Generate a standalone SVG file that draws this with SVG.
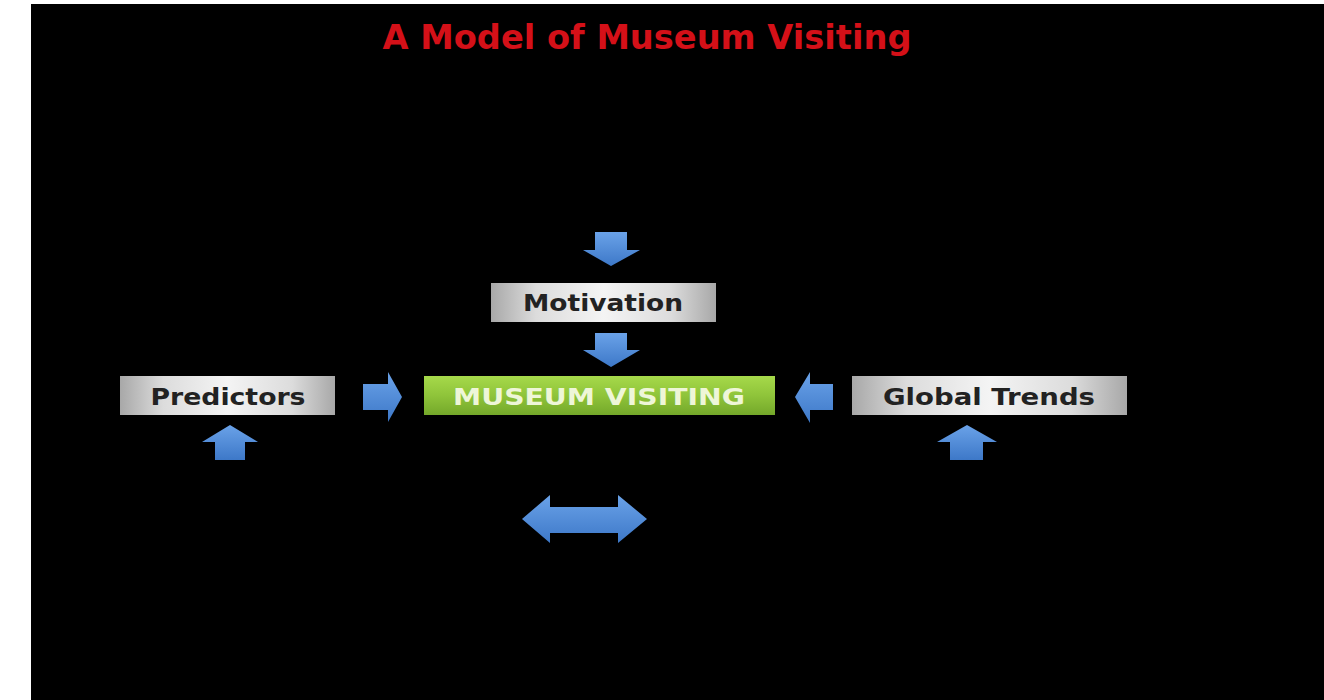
<svg xmlns="http://www.w3.org/2000/svg" width="1324" height="700" viewBox="0 0 1324 700">
<defs>
<linearGradient id="gray" x1="0" y1="0" x2="1" y2="0">
<stop offset="0" stop-color="#a8a8a8"/><stop offset="0.2" stop-color="#dcdcdc"/><stop offset="0.5" stop-color="#f4f4f4"/><stop offset="0.8" stop-color="#dcdcdc"/><stop offset="1" stop-color="#a8a8a8"/>
</linearGradient>
<linearGradient id="green" x1="0" y1="0" x2="0" y2="1">
<stop offset="0" stop-color="#a6d94a"/><stop offset="0.5" stop-color="#8fc43a"/><stop offset="1" stop-color="#74a82a"/>
</linearGradient>
<linearGradient id="blue" x1="0" y1="0" x2="0" y2="1">
<stop offset="0" stop-color="#6aa2e8"/><stop offset="1" stop-color="#3d78c8"/>
</linearGradient>
<style>
.box{fill:url(#gray)}
.lbl{font-family:"DejaVu Sans","Liberation Sans",sans-serif;font-weight:bold;font-size:23px;fill:#222;text-anchor:middle}
.arr{fill:url(#blue)}
</style>
</defs>
<rect x="0" y="0" width="1324" height="700" fill="#fff"/>
<rect x="31" y="4" width="1293" height="696" fill="#000"/>
<text x="647" y="49" font-family="DejaVu Sans,sans-serif" font-weight="bold" font-size="33" fill="#d41018" text-anchor="middle" textLength="529" lengthAdjust="spacingAndGlyphs">A Model of Museum Visiting</text>
<g id="motivation">
<rect class="box" x="491" y="283" width="225" height="39"/>
<text class="lbl" x="603" y="311" textLength="160" lengthAdjust="spacingAndGlyphs">Motivation</text>
</g>
<g id="museum-visiting">
<rect x="424" y="376" width="351" height="39" fill="url(#green)"/>
<text x="599" y="405" font-family="DejaVu Sans,sans-serif" font-weight="bold" font-size="23" fill="#eef6d8" text-anchor="middle" textLength="292" lengthAdjust="spacingAndGlyphs">MUSEUM VISITING</text>
</g>
<g id="predictors">
<rect class="box" x="120" y="376" width="215" height="39"/>
<text class="lbl" x="228" y="405" textLength="155" lengthAdjust="spacingAndGlyphs">Predictors</text>
</g>
<g id="global-trends">
<rect class="box" x="852" y="376" width="275" height="39"/>
<text class="lbl" x="989" y="405" textLength="212" lengthAdjust="spacingAndGlyphs">Global Trends</text>
</g>
<g id="connectors">
<polygon class="arr" points="595,232 627,232 627,250 640,250 611,266 583,250 595,250"/>
<polygon class="arr" points="595,333 627,333 627,350 640,350 611,367 583,350 595,350"/>
<polygon class="arr" points="363,384 388,384 388,372 402,397 388,422 388,410 363,410"/>
<polygon class="arr" points="833,384 810,384 810,372 795,397 810,423 810,410 833,410"/>
<polygon class="arr" points="230,425 258,442 245,442 245,460 215,460 215,442 202,442"/>
<polygon class="arr" points="967,425 997,442 983,442 983,460 950,460 950,442 937,442"/>
<polygon class="arr" points="522,519 550,495 550,507 618,507 618,495 647,519 618,543 618,533 550,533 550,543"/>
</g>
</svg>
